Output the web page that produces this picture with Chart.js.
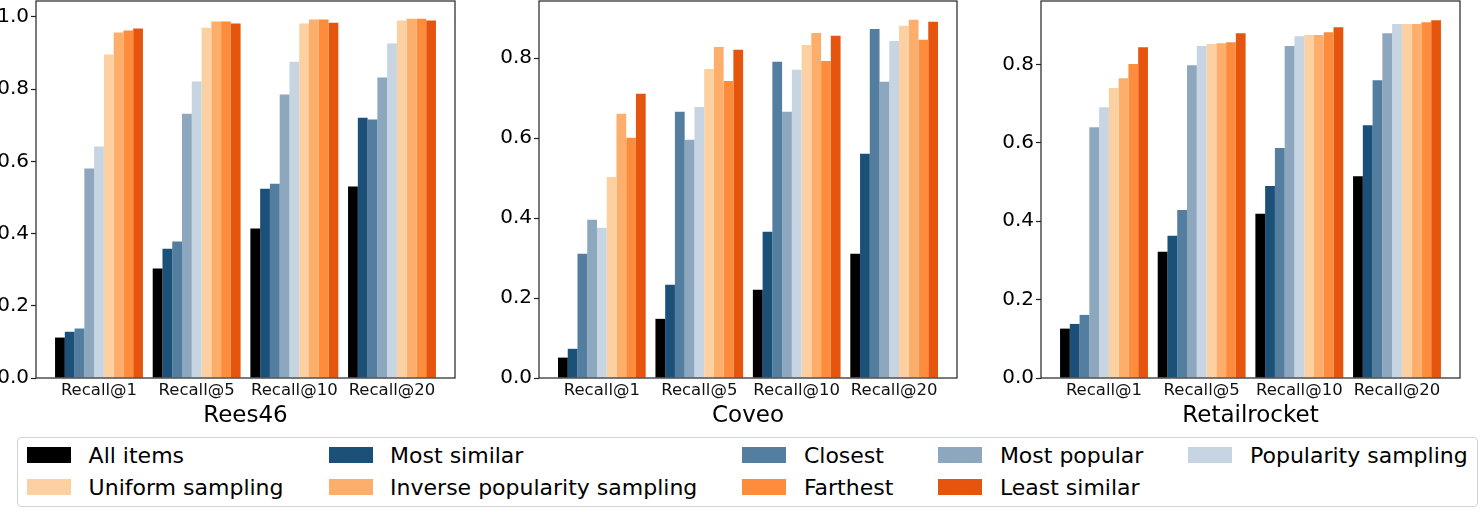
<!DOCTYPE html>
<html>
<head>
<meta charset="utf-8">
<script src="https://cdn.jsdelivr.net/npm/chart.js@4"></script>
<style>
  *{box-sizing:border-box;margin:0;padding:0}
  body{width:1482px;height:512px;overflow:hidden;background:#fff;position:relative;font-family:'DejaVu Sans',sans-serif}
  canvas{position:absolute;top:0}
  .legend{position:absolute;left:17px;top:437px;width:1461px;height:70px;border:1px solid #d4d4d4;border-radius:4px}
  .legend-grid{position:absolute;left:9px;top:1px;display:grid;grid-template-columns:repeat(5,auto);grid-template-rows:32px 32px;column-gap:45px}
  .item{display:flex;align-items:center;white-space:nowrap;font-size:22px;color:#000}
  .sw{width:44px;height:16px;margin-right:17.6px;flex:none}
</style>
</head>
<body>
<canvas id="c0" width="483" height="430" style="left:-24px"></canvas>
<canvas id="c1" width="482" height="430" style="left:479px"></canvas>
<canvas id="c2" width="483" height="430" style="left:981px"></canvas>
<div class="legend"><div class="legend-grid" id="legend"></div></div>

<script>
const RECALL_LABELS = ["Recall@1", "Recall@5", "Recall@10", "Recall@20"];
const METHODS = ["All items", "Most similar", "Closest", "Most popular", "Popularity sampling",
  "Uniform sampling", "Inverse popularity sampling", "Farthest", "Least similar"];
const COLORS = ["#000000", "#1b5079", "#537e9f", "#8da8be", "#c6d5e1",
  "#fdd0a2", "#fdae6b", "#fd8d3c", "#e6550d"];

// one row per method, values for Recall@1/5/10/20
const REES46 = [
  [0.112, 0.303, 0.414, 0.530],
  [0.128, 0.358, 0.524, 0.721],
  [0.137, 0.378, 0.538, 0.716],
  [0.580, 0.732, 0.785, 0.832],
  [0.641, 0.821, 0.876, 0.926],
  [0.896, 0.970, 0.982, 0.990],
  [0.957, 0.987, 0.993, 0.995],
  [0.962, 0.987, 0.993, 0.995],
  [0.968, 0.982, 0.984, 0.990],
];
const COVEO = [
  [0.051, 0.148, 0.221, 0.311],
  [0.073, 0.233, 0.366, 0.561],
  [0.311, 0.666, 0.791, 0.873],
  [0.396, 0.596, 0.666, 0.741],
  [0.376, 0.678, 0.771, 0.843],
  [0.503, 0.773, 0.833, 0.881],
  [0.661, 0.828, 0.863, 0.896],
  [0.601, 0.743, 0.793, 0.846],
  [0.711, 0.821, 0.856, 0.891],
];
const RETAILROCKET = [
  [0.126, 0.322, 0.419, 0.515],
  [0.138, 0.363, 0.490, 0.645],
  [0.161, 0.429, 0.587, 0.760],
  [0.640, 0.798, 0.847, 0.880],
  [0.691, 0.847, 0.872, 0.903],
  [0.740, 0.852, 0.875, 0.903],
  [0.765, 0.854, 0.875, 0.903],
  [0.801, 0.857, 0.882, 0.908],
  [0.844, 0.880, 0.895, 0.913],
];
const PANEL_TITLES = ["Rees46", "Coveo", "Retailrocket"];
const PANEL_DATA = [REES46, COVEO, RETAILROCKET];
const Y_MAX = [1.044, 0.943, 0.962];
const Y_TICKS = [0, 0.2, 0.4, 0.6, 0.8, 1.0];

const FONT = "'DejaVu Sans', sans-serif";

const framePlugin = {
  id: "frame",
  afterDraw(chart) {
    const a = chart.chartArea, ctx = chart.ctx;
    ctx.save();
    ctx.strokeStyle = "#222";
    ctx.lineWidth = 1.2;
    ctx.strokeRect(a.left, a.top, a.right - a.left, a.bottom - a.top);
    ctx.restore();
  }
};

PANEL_DATA.forEach((rows, p) => {
  new Chart(document.getElementById("c" + p), {
    type: "bar",
    data: {
      datasets: rows.map((vals, m) => ({
        label: METHODS[m],
        data: vals.map((v, i) => ({ x: i, y: v })),
        backgroundColor: COLORS[m],
        borderWidth: 0,
        barPercentage: 1.0,
        categoryPercentage: 0.9,
      }))
    },
    options: {
      responsive: false,
      animation: false,
      layout: { padding: { top: 1, right: 4, left: 0, bottom: 0 } },
      plugins: { legend: { display: false }, tooltip: { enabled: false } },
      scales: {
        x: {
          type: "linear",
          offset: false,
          bounds: "data",
          grace: 0,
          min: -0.645, max: 3.645,
          afterBuildTicks: s => { s.ticks = RECALL_LABELS.map((_, i) => ({ value: i })); },
          afterFit: s => { s.height = 52; s.paddingLeft = 0; s.paddingRight = 0; },
          grid: { display: false, drawTicks: false, offset: false },
          border: { display: false },
          ticks: {
            padding: 3, color: "#111", maxRotation: 0, autoSkip: false, includeBounds: false,
            font: { family: FONT, size: 16.5 },
            callback: v => RECALL_LABELS[v]
          },
          title: {
            display: true, text: PANEL_TITLES[p], color: "#000",
            font: { family: FONT, size: 23 }, padding: { top: 0, bottom: 0 }
          }
        },
        y: {
          min: 0, max: Y_MAX[p],
          afterBuildTicks: s => { s.ticks = Y_TICKS.filter(t => t <= Y_MAX[p]).map(t => ({ value: t })); },
          afterFit: s => { s.width = 60; s.paddingTop = 0; s.paddingBottom = 0; },
          grid: { display: true, drawOnChartArea: false, drawTicks: true, tickLength: 5, tickColor: "#222", tickWidth: 1.2 },
          border: { display: false },
          ticks: {
            padding: 2, color: "#000",
            font: { family: FONT, size: 20 },
            callback: v => v.toFixed(1)
          }
        }
      }
    },
    plugins: [framePlugin]
  });
});

const legend = document.getElementById("legend");
METHODS.forEach((name, m) => {
  const item = document.createElement("div");
  item.className = "item";
  item.innerHTML = `<span class="sw" style="background:${COLORS[m]}"></span><span>${name}</span>`;
  legend.appendChild(item);
});
</script>
</body>
</html>
